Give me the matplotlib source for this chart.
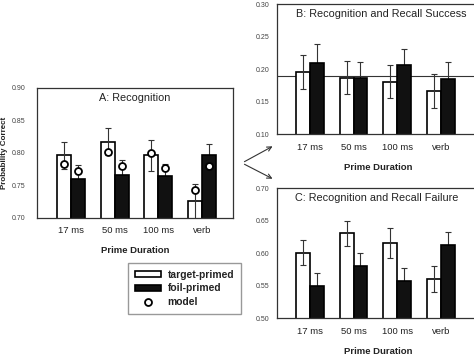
import numpy as np
import matplotlib
matplotlib.use('Agg')
import matplotlib.pyplot as plt
from matplotlib.patches import Patch, FancyArrowPatch
from matplotlib.lines import Line2D
from matplotlib.ticker import FormatStrFormatter

plt.rcParams['font.family'] = ['Liberation Sans', 'DejaVu Sans']

durations = ['17 ms', '50 ms', '100 ms', 'verb']

# A: Recognition
a_target = [0.796, 0.817, 0.796, 0.725]
a_target_err = [0.021, 0.021, 0.024, 0.027]
a_foil = [0.759, 0.766, 0.764, 0.796]
a_foil_err = [0.022, 0.023, 0.018, 0.018]
a_model_target = [0.782, 0.801, 0.800, 0.742]
a_model_foil = [0.771, 0.779, 0.777, 0.780]

# B: Recognition and Recall Success
b_target = [0.196, 0.187, 0.181, 0.167]
b_target_err = [0.026, 0.025, 0.026, 0.026]
b_foil = [0.209, 0.186, 0.206, 0.185]
b_foil_err = [0.030, 0.025, 0.025, 0.026]
b_reference = 0.189

# C: Recognition and Recall Failure
c_target = [0.601, 0.631, 0.616, 0.560]
c_target_err = [0.019, 0.019, 0.023, 0.020]
c_foil = [0.550, 0.581, 0.557, 0.613]
c_foil_err = [0.020, 0.020, 0.021, 0.020]

txt = '#222222'
x = np.arange(len(durations))
w = 0.32

fig = plt.figure(figsize=(4.74, 3.55), dpi=100)
axA = fig.add_axes([0.078, 0.387, 0.413, 0.366])
axB = fig.add_axes([0.5854, 0.6217, 0.427, 0.367])
axC = fig.add_axes([0.5854, 0.1034, 0.427, 0.366])


def draw_bars(ax, tgt, tgt_err, foil, foil_err):
    ax.bar(x - w / 2, tgt, w, color='white', edgecolor='black', linewidth=1.2, zorder=2)
    ax.bar(x + w / 2, foil, w, color='#111111', edgecolor='black', linewidth=1.2, zorder=2)
    ax.errorbar(x - w / 2, tgt, yerr=tgt_err, fmt='none', ecolor='#333333',
                elinewidth=0.8, capsize=2, capthick=0.8, zorder=3)
    ax.errorbar(x + w / 2, foil, yerr=foil_err, fmt='none', ecolor='#333333',
                elinewidth=0.8, capsize=2, capthick=0.8, zorder=1.5)


draw_bars(axA, a_target, a_target_err, a_foil, a_foil_err)
axA.plot(x - w / 2, a_model_target, 'o', mfc='white', mec='black', ms=5, mew=1.3, zorder=4)
axA.plot(x + w / 2, a_model_foil, 'o', mfc='white', mec='black', ms=5, mew=1.3, zorder=4)
axA.set_ylim(0.70, 0.90)
axA.set_yticks([0.70, 0.75, 0.80, 0.85, 0.90])
axA.set_xlim(-0.78, 3.71)
axA.set_ylabel('Probability Correct', fontsize=5.8, fontweight='bold', color=txt, labelpad=3)
axA.text(0.5, 0.92, 'A: Recognition', transform=axA.transAxes, ha='center', va='center',
         fontsize=7.8, color=txt)

draw_bars(axB, b_target, b_target_err, b_foil, b_foil_err)
axB.axhline(b_reference, color='#333333', linewidth=0.8, zorder=1)
axB.set_ylim(0.10, 0.30)
axB.set_yticks([0.10, 0.15, 0.20, 0.25, 0.30])
axB.set_xlim(-0.745, 3.90)
axB.text(0.511, 0.923, 'B: Recognition and Recall Success', transform=axB.transAxes,
         ha='center', va='center', fontsize=7.8, color=txt)

draw_bars(axC, c_target, c_target_err, c_foil, c_foil_err)
axC.set_ylim(0.50, 0.70)
axC.set_yticks([0.50, 0.55, 0.60, 0.65, 0.70])
axC.set_xlim(-0.745, 3.90)
axC.text(0.489, 0.925, 'C: Recognition and Recall Failure', transform=axC.transAxes,
         ha='center', va='center', fontsize=7.8, color=txt)

for ax, pad in [(axA, 8.3), (axB, 5.5), (axC, 5.5)]:
    ax.set_xticks(x)
    ax.set_xticklabels(durations)
    ax.tick_params(axis='x', length=0, pad=6, labelsize=6.8, labelcolor=txt)
    ax.tick_params(axis='y', length=0, pad=pad, labelsize=5, labelcolor='#444444')
    ax.yaxis.set_major_formatter(FormatStrFormatter('%.2f'))
    ax.set_xlabel('Prime Duration', fontsize=6.8, fontweight='bold', color=txt, labelpad=8)
    for s in ax.spines.values():
        s.set_linewidth(0.9)
        s.set_color('#333333')

# legend
handles = [Patch(facecolor='white', edgecolor='black', linewidth=1.2),
           Patch(facecolor='#111111', edgecolor='black', linewidth=1.2),
           Line2D([], [], marker='o', ls='none', mfc='white', mec='black', ms=5, mew=1.3)]
leg = fig.legend(handles, ['target-primed', 'foil-primed', 'model'],
                 loc='upper left', bbox_to_anchor=(128 / 474, 1 - 263 / 355),
                 borderaxespad=0,
                 prop={'weight': 'bold', 'size': 7.4}, handlelength=2.6, handleheight=0.5,
                 handletextpad=0.6, labelspacing=0.35, borderpad=0.65,
                 fancybox=False, edgecolor='#999999', framealpha=1)
for t in leg.get_texts():
    t.set_color(txt)

# arrows from panel A to panels B and C
start = (242 / 474, 1 - 163 / 355)
for end in [(275 / 474, 1 - 145 / 355), (275 / 474, 1 - 180 / 355)]:
    fig.add_artist(FancyArrowPatch(
        start, end, transform=fig.transFigure, arrowstyle='->', mutation_scale=8,
        linewidth=0.8, color='#333333'))

fig.savefig('out.png', dpi=100)
